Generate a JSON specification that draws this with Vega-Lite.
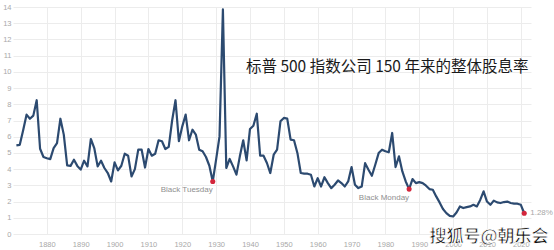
{
  "$schema": "https://vega.github.io/schema/vega-lite/v6.json",
  "width": 518,
  "height": 227,
  "autosize": {"type": "none"},
  "padding": {"left": 13, "top": 7, "right": 23, "bottom": 16},
  "background": "white",
  "config": {
    "view": {"stroke": null},
    "font": "Liberation Sans",
    "axis": {
      "domain": false,
      "ticks": false,
      "grid": true,
      "gridColor": "#ececec",
      "gridWidth": 1,
      "labelColor": "#a8a8a8",
      "labelFont": "Liberation Sans",
      "labelFontSize": 7.5,
      "title": null
    }
  },
  "datasets": {
    "series": [
      {"year": 1871, "value": 5.47}, {"year": 1872, "value": 5.5}, {"year": 1873, "value": 6.4},
      {"year": 1874, "value": 7.36}, {"year": 1875, "value": 7.11}, {"year": 1876, "value": 7.3},
      {"year": 1877, "value": 8.25}, {"year": 1878, "value": 5.26}, {"year": 1879, "value": 4.75},
      {"year": 1880, "value": 4.67}, {"year": 1881, "value": 4.62}, {"year": 1882, "value": 5.3},
      {"year": 1883, "value": 5.6}, {"year": 1884, "value": 7.11}, {"year": 1885, "value": 6.13},
      {"year": 1886, "value": 4.23}, {"year": 1887, "value": 4.2}, {"year": 1888, "value": 4.58},
      {"year": 1889, "value": 4.2}, {"year": 1890, "value": 3.97}, {"year": 1891, "value": 4.52},
      {"year": 1892, "value": 4.17}, {"year": 1893, "value": 5.86}, {"year": 1894, "value": 5.3},
      {"year": 1895, "value": 4.17}, {"year": 1896, "value": 4.52}, {"year": 1897, "value": 4.07},
      {"year": 1898, "value": 3.76}, {"year": 1899, "value": 3.24}, {"year": 1900, "value": 4.42},
      {"year": 1901, "value": 3.92}, {"year": 1902, "value": 4.21}, {"year": 1903, "value": 4.95},
      {"year": 1904, "value": 4.83}, {"year": 1905, "value": 3.55}, {"year": 1906, "value": 4.0},
      {"year": 1907, "value": 5.2}, {"year": 1908, "value": 5.2}, {"year": 1909, "value": 4.1},
      {"year": 1910, "value": 5.24}, {"year": 1911, "value": 4.83}, {"year": 1912, "value": 4.95},
      {"year": 1913, "value": 5.78}, {"year": 1914, "value": 5.72}, {"year": 1915, "value": 5.24},
      {"year": 1916, "value": 5.37}, {"year": 1917, "value": 7.0}, {"year": 1918, "value": 8.25},
      {"year": 1919, "value": 5.72}, {"year": 1920, "value": 6.64}, {"year": 1921, "value": 7.36},
      {"year": 1922, "value": 5.78}, {"year": 1923, "value": 6.43}, {"year": 1924, "value": 6.13},
      {"year": 1925, "value": 5.2}, {"year": 1926, "value": 5.1}, {"year": 1927, "value": 4.75},
      {"year": 1928, "value": 4.21}, {"year": 1929, "value": 3.24}, {"year": 1930, "value": 4.6},
      {"year": 1931, "value": 6.02}, {"year": 1932, "value": 13.85}, {"year": 1933, "value": 4.07},
      {"year": 1934, "value": 4.63}, {"year": 1935, "value": 4.17}, {"year": 1936, "value": 3.66},
      {"year": 1937, "value": 4.79}, {"year": 1938, "value": 5.78}, {"year": 1939, "value": 4.54},
      {"year": 1940, "value": 6.48}, {"year": 1941, "value": 6.68}, {"year": 1942, "value": 7.42},
      {"year": 1943, "value": 4.83}, {"year": 1944, "value": 4.83}, {"year": 1945, "value": 4.38},
      {"year": 1946, "value": 3.76}, {"year": 1947, "value": 4.89}, {"year": 1948, "value": 5.2},
      {"year": 1949, "value": 6.95}, {"year": 1950, "value": 7.16}, {"year": 1951, "value": 7.12},
      {"year": 1952, "value": 5.82}, {"year": 1953, "value": 5.78}, {"year": 1954, "value": 5.0},
      {"year": 1955, "value": 3.76}, {"year": 1956, "value": 3.72}, {"year": 1957, "value": 3.72},
      {"year": 1958, "value": 3.65}, {"year": 1959, "value": 2.93}, {"year": 1960, "value": 3.44},
      {"year": 1961, "value": 2.93}, {"year": 1962, "value": 3.5}, {"year": 1963, "value": 3.14},
      {"year": 1964, "value": 2.83}, {"year": 1965, "value": 3.04}, {"year": 1966, "value": 3.3},
      {"year": 1967, "value": 3.14}, {"year": 1968, "value": 2.93}, {"year": 1969, "value": 3.24},
      {"year": 1970, "value": 4.13}, {"year": 1971, "value": 3.04}, {"year": 1972, "value": 2.83},
      {"year": 1973, "value": 2.93}, {"year": 1974, "value": 4.37}, {"year": 1975, "value": 3.96},
      {"year": 1976, "value": 3.59}, {"year": 1977, "value": 4.27}, {"year": 1978, "value": 4.99},
      {"year": 1979, "value": 5.2}, {"year": 1980, "value": 5.1}, {"year": 1981, "value": 5.04},
      {"year": 1982, "value": 6.23}, {"year": 1983, "value": 4.13}, {"year": 1984, "value": 4.79},
      {"year": 1985, "value": 3.86}, {"year": 1986, "value": 3.24}, {"year": 1987, "value": 2.77},
      {"year": 1988, "value": 3.39}, {"year": 1989, "value": 3.14}, {"year": 1990, "value": 3.2},
      {"year": 1991, "value": 3.14}, {"year": 1992, "value": 2.98}, {"year": 1993, "value": 2.77},
      {"year": 1994, "value": 2.73}, {"year": 1995, "value": 2.32}, {"year": 1996, "value": 1.95},
      {"year": 1997, "value": 1.54}, {"year": 1998, "value": 1.29}, {"year": 1999, "value": 1.12},
      {"year": 2000, "value": 1.08}, {"year": 2001, "value": 1.33}, {"year": 2002, "value": 1.7},
      {"year": 2003, "value": 1.6}, {"year": 2004, "value": 1.66}, {"year": 2005, "value": 1.7},
      {"year": 2006, "value": 1.8}, {"year": 2007, "value": 1.7}, {"year": 2008, "value": 2.1},
      {"year": 2009, "value": 2.63}, {"year": 2010, "value": 2.0}, {"year": 2011, "value": 1.8},
      {"year": 2012, "value": 2.06}, {"year": 2013, "value": 1.95}, {"year": 2014, "value": 1.91},
      {"year": 2015, "value": 1.97}, {"year": 2016, "value": 2.0}, {"year": 2017, "value": 1.91},
      {"year": 2018, "value": 1.87}, {"year": 2019, "value": 1.87}, {"year": 2020, "value": 1.8},
      {"year": 2021, "value": 1.28}
    ],
    "events": [
      {"year": 1929, "value": 3.24, "label": "Black Tuesday"},
      {"year": 1987, "value": 2.77, "label": "Black Monday"},
      {"year": 2021, "value": 1.28, "label": "1.28%"}
    ],
    "notes": [
      {"year": 1938.8, "value": 10.3, "label": "标普 500 指数公司 150 年来的整体股息率"}
    ],
    "marks": [
      {"year": 2010.6, "value": -0.17, "label": "搜狐号@朝乐会"}
    ]
  },
  "encoding": {
    "x": {
      "field": "year",
      "type": "quantitative",
      "scale": {"domain": [1870, 2023], "nice": false, "zero": false},
      "axis": {
        "values": [1880, 1890, 1900, 1910, 1920, 1930, 1940, 1950, 1960, 1970, 1980, 1990, 2000, 2010, 2020],
        "format": "d",
        "labelPadding": 6
      }
    },
    "y": {
      "field": "value",
      "type": "quantitative",
      "scale": {"domain": [0, 14], "nice": false},
      "axis": {
        "values": [0, 1, 2, 3, 4, 5, 6, 7, 8, 9, 10, 11, 12, 13, 14],
        "labelPadding": 2
      }
    }
  },
  "layer": [
    {
      "data": {"name": "series"},
      "mark": {"type": "line", "color": "#2c4a70", "strokeWidth": 2.2, "strokeJoin": "round"}
    },
    {
      "data": {"name": "events"},
      "mark": {"type": "circle", "color": "#d3263c", "size": 26, "opacity": 1}
    },
    {
      "data": {"name": "events"},
      "transform": [{"filter": "datum.year < 2000"}],
      "mark": {"type": "text", "align": "right", "baseline": "middle", "dy": 8.5, "fontSize": 8, "color": "#8f8f8f", "font": "Liberation Sans"},
      "encoding": {"text": {"field": "label"}}
    },
    {
      "data": {"name": "events"},
      "transform": [{"filter": "datum.year > 2000"}],
      "mark": {"type": "text", "align": "left", "baseline": "middle", "dx": 6, "fontSize": 8, "color": "#a8a8a8", "font": "Liberation Sans"},
      "encoding": {"text": {"field": "label"}}
    },
    {
      "data": {"name": "notes"},
      "mark": {"type": "text", "align": "left", "baseline": "middle", "fontSize": 15.5, "color": "#1a1a1a", "font": "Noto Sans CJK SC"},
      "encoding": {"text": {"field": "label"}}
    },
    {
      "data": {"name": "marks"},
      "mark": {"type": "text", "align": "center", "baseline": "middle", "fontSize": 17, "fontWeight": "bold", "color": "#111111", "stroke": "white", "strokeWidth": 0.8, "font": "Noto Sans CJK SC"},
      "encoding": {"text": {"field": "label"}}
    }
  ]
}
